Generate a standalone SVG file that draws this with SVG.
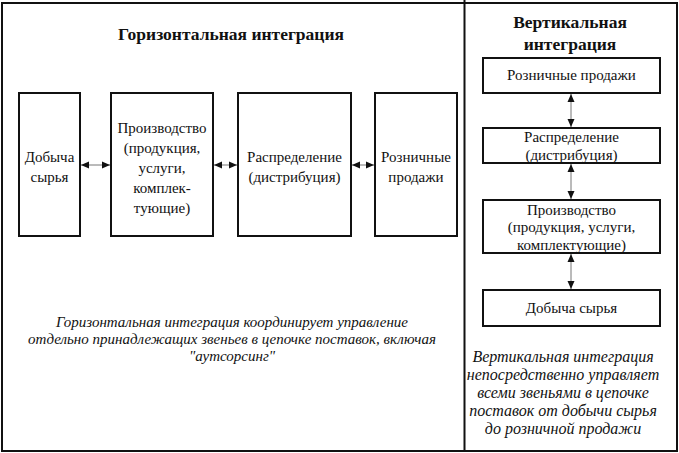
<svg xmlns="http://www.w3.org/2000/svg" width="679" height="453" viewBox="0 0 679 453" font-family="'Liberation Serif', 'DejaVu Serif', serif">
<style>
text{font-family:'Liberation Serif','DejaVu Serif',serif;fill:#111;text-anchor:middle}
.frame{fill:none;stroke:#111;stroke-width:2}
.box{fill:#fff;stroke:#111;stroke-width:2}
.t{font-size:15px}
.h{font-size:17.5px;font-weight:bold}
.i{font-size:15px;font-style:italic}
.ir{font-size:16px;font-style:italic}
.c{stroke:#777;stroke-width:1;fill:none;marker-start:url(#ah);marker-end:url(#ah)}
</style>
<defs>
<marker id="ah" viewBox="0 0 8 8" refX="8" refY="4" markerWidth="8" markerHeight="8" markerUnits="userSpaceOnUse" orient="auto-start-reverse">
<path d="M0,0.5 L8,4 L0,7.5 Z" fill="#111"/>
</marker>
</defs>
<rect width="679" height="453" fill="#fff"/>
<g id="frame">
<rect class="frame" x="2" y="3" width="675" height="448"/>
<line class="frame" x1="464.5" y1="0" x2="464.5" y2="451"/>
</g>
<text class="h" x="231" y="40">Горизонтальная интеграция</text>
<text class="h" x="570" y="28">Вертикальная</text>
<text class="h" x="570" y="50">интеграция</text>
<g id="h1"><rect class="box" x="19" y="93" width="61" height="143"/>
<text class="t" x="49.5" y="162">Добыча</text><text class="t" x="49.5" y="182">сырья</text></g>
<g id="h2"><rect class="box" x="111" y="93" width="102" height="143"/>
<text class="t" x="162" y="133">Производство</text>
<text class="t" x="162" y="153">(продукция,</text>
<text class="t" x="162" y="173">услуги,</text>
<text class="t" x="162" y="193">комплек-</text>
<text class="t" x="162" y="213">тующие)</text></g>
<g id="h3"><rect class="box" x="238" y="93" width="113" height="143"/>
<text class="t" x="294.5" y="162">Распределение</text><text class="t" x="294.5" y="182">(дистрибуция)</text></g>
<g id="h4"><rect class="box" x="375" y="93" width="82" height="143"/>
<text class="t" x="416" y="162">Розничные</text><text class="t" x="416" y="182">продажи</text></g>
<g id="v1"><rect class="box" x="483" y="58" width="177" height="35"/>
<text class="t" x="571.5" y="80">Розничные продажи</text></g>
<g id="v2"><rect class="box" x="483" y="128" width="177" height="35"/>
<text class="t" x="571.5" y="142">Распределение</text><text class="t" x="571.5" y="160">(дистрибуция)</text></g>
<g id="v3"><rect class="box" x="483" y="200" width="177" height="53"/>
<text class="t" x="571.5" y="215">Производство</text>
<text class="t" x="571.5" y="232">(продукция, услуги,</text>
<text class="t" x="571.5" y="250">комплектующие)</text></g>
<g id="v4"><rect class="box" x="483" y="290" width="177" height="36"/>
<text class="t" x="571.5" y="313">Добыча сырья</text></g>
<g id="connectors">
<line class="c" x1="81" y1="165" x2="110" y2="165"/>
<line class="c" x1="214" y1="165" x2="237" y2="165"/>
<line class="c" x1="352" y1="165" x2="374" y2="165"/>
<line class="c" x1="571" y1="94" x2="571" y2="127"/>
<line class="c" x1="571" y1="164" x2="571" y2="199"/>
<line class="c" x1="571" y1="254" x2="571" y2="289"/>
</g>
<g id="notes">
<text class="i" x="232" y="327">Горизонтальная интеграция координирует управление</text>
<text class="i" x="232" y="344">отдельно принадлежащих звеньев в цепочке поставок, включая</text>
<text class="i" x="232" y="361">"аутсорсинг"</text>
<text class="ir" x="563" y="362">Вертикальная интеграция</text>
<text class="ir" x="563" y="380">непосредственно управляет</text>
<text class="ir" x="563" y="398">всеми звеньями в цепочке</text>
<text class="ir" x="563" y="416">поставок от добычи сырья</text>
<text class="ir" x="563" y="434">до розничной продажи</text>
</g>
</svg>
